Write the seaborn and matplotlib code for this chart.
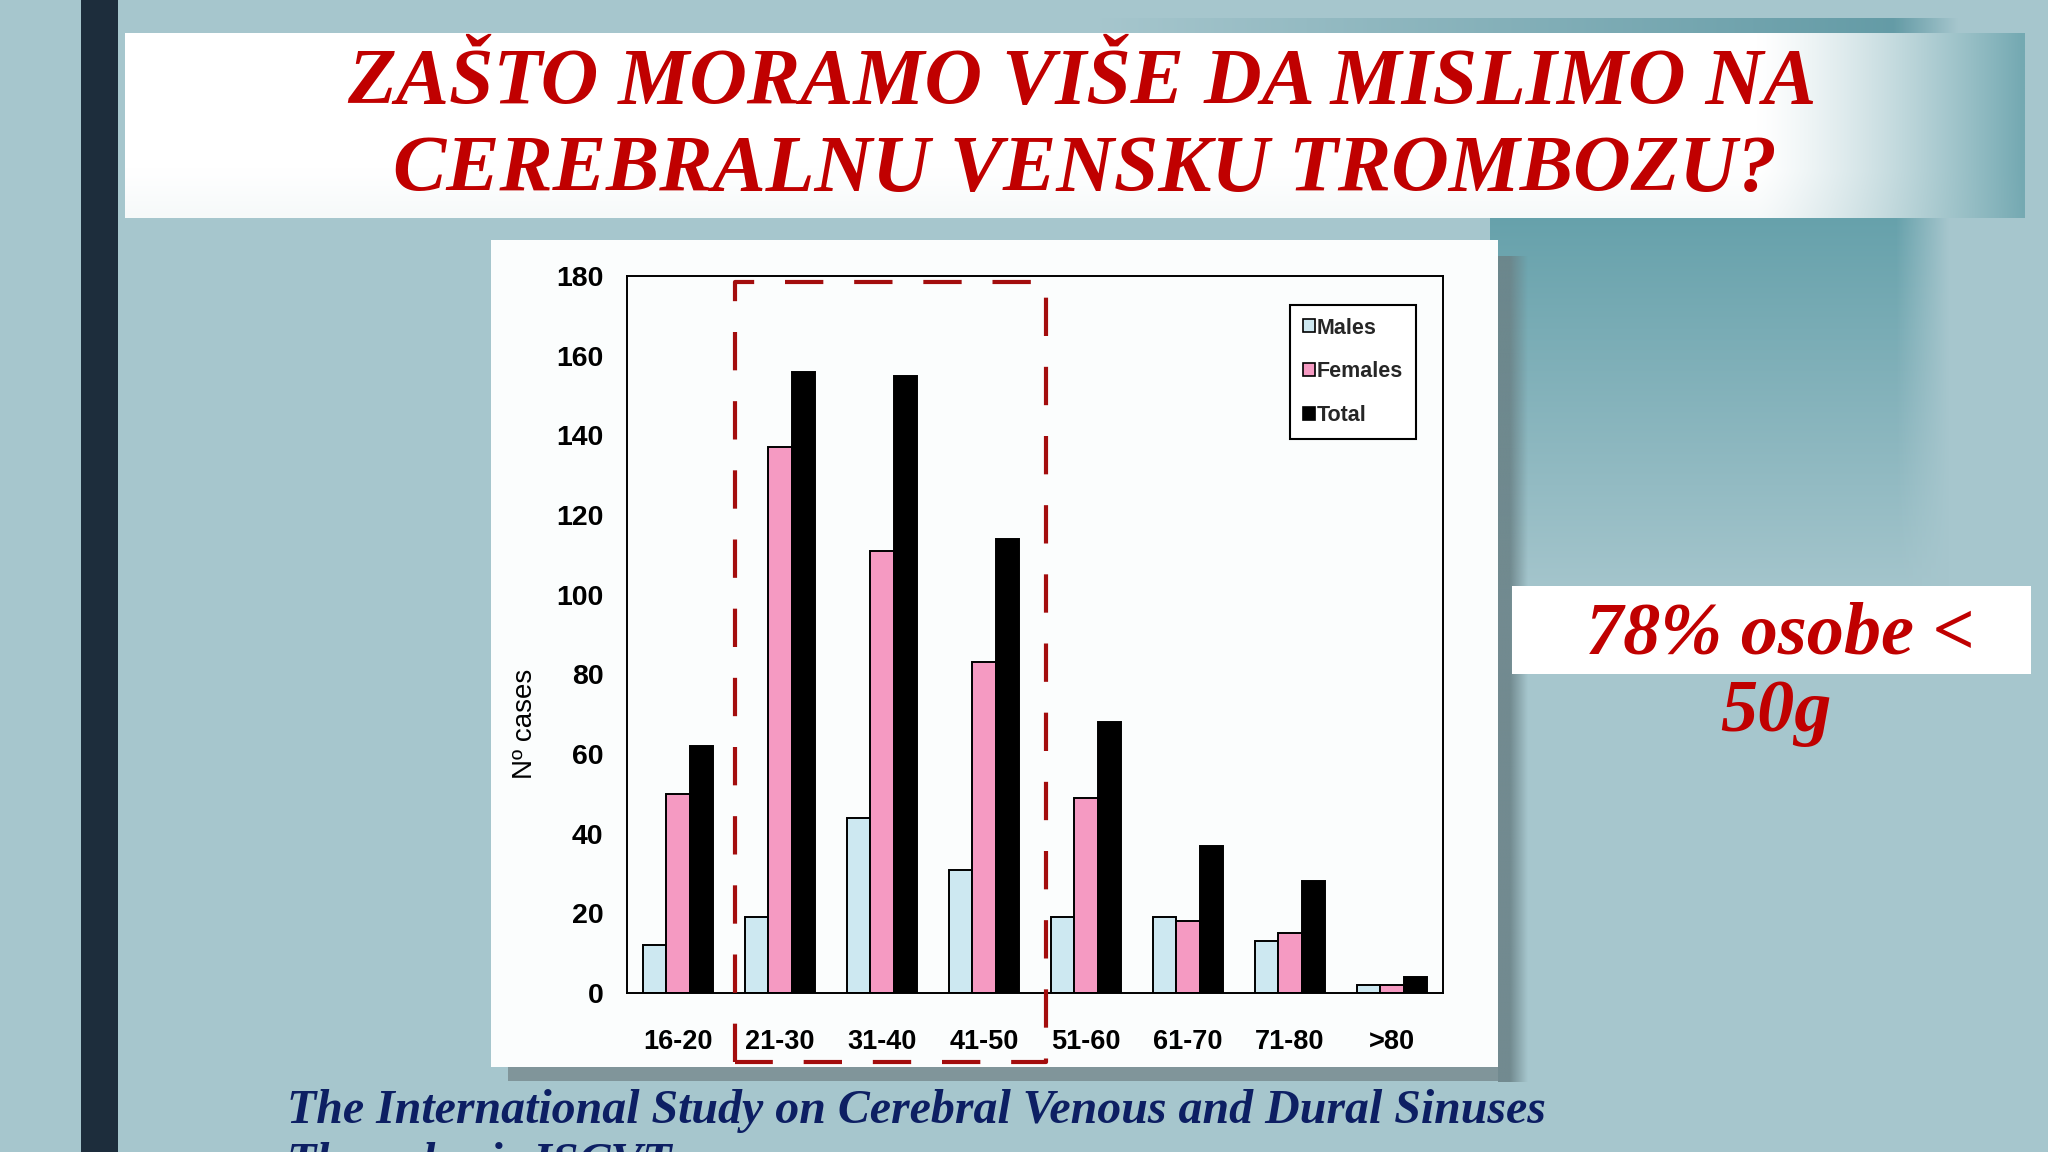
import numpy as np
import pandas as pd
import matplotlib
matplotlib.use("Agg")
import matplotlib.pyplot as plt
import seaborn as sns
from matplotlib.patches import Rectangle, Patch
from matplotlib.colors import to_rgb

# ---------------- data ----------------
age_groups = ['16-20', '21-30', '31-40', '41-50', '51-60', '61-70', '71-80', '>80']
males = [12, 19, 44, 31, 19, 19, 13, 2]
females = [50, 137, 111, 83, 49, 18, 15, 2]
total = [62, 156, 155, 114, 68, 37, 28, 4]
series_names = ['Males', 'Females', 'Total']
y_ticks = list(range(0, 181, 20))
y_label = 'Nº cases'

title_lines = ['ZAŠTO MORAMO VIŠE DA MISLIMO NA', 'CEREBRALNU VENSKU TROMBOZU?']
side_lines = ['78% osobe <', '50g']
source_lines = ['The International Study on Cerebral Venous and Dural Sinuses',
                'Thrombosis ISCVT']

# highlighted age range (indices into age_groups)
highlight_first, highlight_last = 1, 3

df = pd.DataFrame({
    'age': age_groups * 3,
    'cases': males + females + total,
    'sex': [s for s in series_names for _ in age_groups],
})

# ---------------- style ----------------
sns.set_style('white')
plt.rcParams['font.family'] = ['Liberation Sans', 'DejaVu Sans']

BG = '#a6c6cd'
W, H = 2048, 1152
fig = plt.figure(figsize=(W / 100, H / 100), dpi=100)
fig.patch.set_facecolor(BG)

bg = fig.add_axes([0, 0, 1, 1], zorder=0)
bg.axis('off')


def grad_img(c_top, c_bot, n=200, horizontal=False, fade_right=0.0, fade_left=0.0):
    a = np.array(to_rgb(c_top))
    b = np.array(to_rgb(c_bot))
    t = np.linspace(0, 1, n)
    cols = a[None, :] * (1 - t[:, None]) + b[None, :] * t[:, None]
    if horizontal:
        img = np.tile(cols[None, :, :], (n, 1, 1))
    else:
        img = np.tile(cols[:, None, :], (1, n, 1))
    alpha = np.ones((n, n, 1))
    if fade_right > 0:
        k = int(n * fade_right)
        alpha[:, n - k:, 0] *= np.linspace(1, 0, k)[None, :]
    if fade_left > 0:
        k = int(n * fade_left)
        alpha[:, :k, 0] *= np.linspace(0, 1, k)[None, :]
    return np.concatenate([img, alpha], axis=2)


# teal shaded block to the right of the chart
bg.imshow(grad_img('#66a1ab', BG, fade_right=0.12), extent=(1490, 1950, 600, 214),
          aspect='auto', origin='upper', zorder=1, interpolation='bilinear')

# title banner: white fading to teal on the right
ban = np.ones((50, 400, 4))
tx = np.linspace(0, 1, 400)
wgt = np.clip((tx - 0.86) / 0.14, 0, 1) ** 1.3
teal = np.array(to_rgb('#74a9b2'))
for i in range(3):
    ban[:, :, i] = (1 - wgt) * 1.0 + wgt * teal[i]
ty = np.linspace(0, 1, 50)
shade = np.clip((ty - 0.75) / 0.25, 0, 1)[:, None] * 0.08
for i in range(3):
    ban[:, :, i] = ban[:, :, i] * (1 - shade) + shade * to_rgb('#8fb5bc')[i]
bg.imshow(ban, extent=(125, 2025, 218, 33), aspect='auto', origin='upper', zorder=2,
          interpolation='bilinear')
# dark teal strip above banner on the right
bg.imshow(grad_img('#a6c6cd', '#5f98a3', horizontal=True, fade_right=0.08),
          extent=(1100, 1960, 33, 18), aspect='auto', origin='upper', zorder=1,
          interpolation='bilinear')

# dark vertical bar on the left
bg.add_patch(Rectangle((81, 0), 37, H, fc='#1d2d3c', ec='none', zorder=3))

# chart panel with soft shadow
sh = grad_img('#6c8489', '#6c8489', horizontal=True, fade_right=0.6)
bg.imshow(sh, extent=(1498, 1528, 1082, 256), aspect='auto', origin='upper', zorder=2,
          interpolation='bilinear', alpha=0.9)
bg.add_patch(Rectangle((508, 1067), 990, 14, fc='#7a8d91', ec='none', zorder=2, alpha=0.85))
bg.add_patch(Rectangle((491, 240), 1007, 827, fc='#fbfdfd', ec='none', zorder=3))

# side box
bg.add_patch(Rectangle((1512, 586), 519, 88, fc='white', ec='none', zorder=3))

bg.set_xlim(0, W)
bg.set_ylim(H, 0)

serif = ['Liberation Serif', 'DejaVu Serif']
bg.text(1082, 104, title_lines[0], ha='center', va='baseline', color='#c00000',
        fontsize=57.5, family=serif, style='italic', weight='bold', zorder=5)
bg.text(1085, 191, title_lines[1], ha='center', va='baseline', color='#c00000',
        fontsize=57.5, family=serif, style='italic', weight='bold', zorder=5)
bg.text(1780, 653, side_lines[0], ha='center', va='baseline', color='#c00000',
        fontsize=53.5, family=serif, style='italic', weight='bold', zorder=5)
bg.text(1776, 731, side_lines[1], ha='center', va='baseline', color='#c00000',
        fontsize=53.5, family=serif, style='italic', weight='bold', zorder=5)
bg.text(287, 1123, source_lines[0], ha='left', va='baseline', color='#0d1f63',
        fontsize=34.5, family=serif, style='italic', weight='bold', zorder=5)
bg.text(287, 1176, source_lines[1], ha='left', va='baseline', color='#0d1f63',
        fontsize=34.5, family=serif, style='italic', weight='bold', zorder=5)

# ---------------- chart ----------------
ax = fig.add_axes([627 / W, (H - 993) / H, 816 / W, 717 / H], zorder=4)
ax.set_facecolor('#fbfdfd')
colors = ['#cde8f1', '#f59ac2', '#000000']
sns.barplot(data=df, x='age', y='cases', hue='sex', order=age_groups,
            hue_order=series_names, palette=colors, saturation=1,
            edgecolor='black', linewidth=1.4, width=0.68, gap=0,
            legend=False, ax=ax, errorbar=None)

ax.set_xlim(-0.5, len(age_groups) - 0.5)
ax.set_ylim(0, 180)
ax.set_yticks(y_ticks)
ax.set_yticklabels([str(v) for v in y_ticks], fontsize=20.5, fontweight='bold')
ax.set_xticks(range(len(age_groups)))
ax.set_xticklabels(age_groups, fontsize=19.5, fontweight='bold')
ax.set_xticks(np.arange(-0.5, len(age_groups), 1), minor=True)
ax.tick_params(axis='x', which='major', length=0, pad=26, colors='black')
ax.tick_params(axis='x', which='minor', length=6, width=1.3, direction='out', colors='black')
ax.tick_params(axis='y', which='major', length=6, width=1.3, direction='out', pad=11, colors='black')
ax.set_xlabel('')
ax.set_ylabel(y_label, fontsize=20, color='black', fontweight='medium')
ax.yaxis.set_label_coords(-0.125, 0.375)
ax.yaxis.label.set_va('center')
for s in ax.spines.values():
    s.set_visible(True)
    s.set_color('black')
    s.set_linewidth(1.4)

# legend
handles = [Patch(fc=c, ec='black', lw=1.2) for c in colors]
leg = ax.legend(handles, series_names, loc='upper right', bbox_to_anchor=(0.967, 0.96),
                borderaxespad=0, frameon=True, fancybox=False, edgecolor='black',
                handlelength=0.55, handleheight=0.55, handletextpad=0.1,
                labelspacing=1.05, borderpad=0.6,
                prop={'weight': 'bold', 'size': 15.5, 'family': 'Liberation Sans'})
leg.get_frame().set_linewidth(1.5)
leg.get_frame().set_facecolor('white')
leg.get_frame().set_alpha(1)

# dashed highlight rectangle around 21-50
x0 = highlight_first - 0.44
x1 = highlight_last + 0.61
y0, y1 = -17.3, 178.5
ax.plot([x0, x0, x1, x1, x0], [y0, y1, y1, y0, y0], color='#a30d0d', lw=3,
        dashes=(9.2, 7.4), clip_on=False, zorder=6, solid_capstyle='butt',
        dash_capstyle='butt')

fig.savefig('out.png', dpi=100, facecolor=fig.get_facecolor())
